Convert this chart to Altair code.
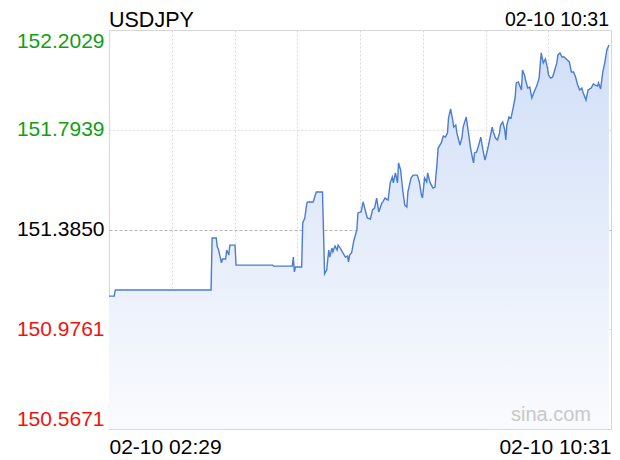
import altair as alt
import pandas as pd

FONT = "Liberation Sans"
TITLE = "USDJPY"
TIME_NOW = "02-10 10:31"
X_LABELS = ["02-10 02:29", "02-10 10:31"]
X_MAX = 482
Y_TICKS = [150.5671, 150.9761, 151.3850, 151.7939, 152.2029]
PREV_CLOSE = 151.3850
WATERMARK = "sina.com"

# minutes since 02:29
minutes = [0, 5, 6, 98, 99, 103, 104, 105, 108, 109, 112, 113, 115, 116, 121, 122, 157, 158, 176, 177,
           178, 179, 185, 186, 188, 190, 191, 196, 199, 205, 206, 207, 209, 211, 212, 214, 215, 217, 219, 220,
           222, 224, 227, 229, 230, 231, 233, 235, 238, 239, 242, 244, 246, 248, 251, 253, 255, 257, 259, 262,
           263, 265, 268, 270, 272, 273, 275, 277, 278, 280, 282, 284, 286, 287, 290, 292, 296, 298, 300, 301,
           302, 303, 305, 306, 308, 311, 313, 315, 316, 319, 321, 323, 325, 326, 328, 330, 331, 333, 334, 337,
           339, 340, 343, 345, 347, 349, 350, 351, 353, 355, 357, 359, 361, 363, 366, 368, 369, 371, 373, 375,
           376, 378, 380, 381, 382, 384, 386, 388, 390, 391, 393, 396, 397, 399, 400, 402, 404, 406, 407, 411,
           413, 415, 417, 419, 421, 422, 424, 426, 428, 430, 431, 433, 435, 437, 440, 442, 444, 446, 448, 450,
           452, 454, 455, 458, 460, 463, 465, 467, 469, 470, 472, 474, 476, 478, 480]
prices = [151.112, 151.112, 151.137, 151.137, 151.350, 151.350, 151.313, 151.305, 151.248, 151.264,
          151.264, 151.301, 151.280, 151.321, 151.321, 151.239, 151.239, 151.235, 151.235, 151.272,
          151.211, 151.231, 151.231, 151.412, 151.432, 151.494, 151.498, 151.498, 151.539, 151.539,
          151.371, 151.203, 151.219, 151.301, 151.272, 151.309, 151.293, 151.317, 151.301, 151.321,
          151.309, 151.293, 151.272, 151.276, 151.252, 151.280, 151.290, 151.338, 151.383, 151.453,
          151.457, 151.498, 151.465, 151.432, 151.428, 151.465, 151.473, 151.514, 151.457, 151.494,
          151.498, 151.514, 151.506, 151.576, 151.600, 151.576, 151.617, 151.576, 151.658, 151.629,
          151.547, 151.485, 151.477, 151.539, 151.596, 151.608, 151.608, 151.580, 151.526, 151.514,
          151.555, 151.596, 151.580, 151.617, 151.580, 151.555, 151.559, 151.658, 151.719, 151.740,
          151.768, 151.764, 151.781, 151.842, 151.879, 151.834, 151.805, 151.813, 151.781, 151.731,
          151.764, 151.805, 151.846, 151.785, 151.723, 151.678, 151.658, 151.699, 151.703, 151.731,
          151.764, 151.711, 151.670, 151.703, 151.764, 151.805, 151.785, 151.760, 151.752, 151.781,
          151.813, 151.826, 151.793, 151.752, 151.813, 151.846, 151.842, 151.883, 151.928, 151.986,
          151.990, 151.957, 152.039, 152.018, 151.998, 151.965, 151.969, 151.924, 151.936, 151.977,
          152.006, 152.109, 152.068, 152.084, 152.047, 152.018, 152.006, 152.010, 152.039, 152.068,
          152.100, 152.109, 152.092, 152.092, 152.080, 152.072, 152.031, 152.031, 152.010, 151.977,
          151.957, 151.965, 151.949, 151.916, 151.957, 151.965, 151.982, 151.977, 151.973, 151.986,
          151.961, 152.027, 152.068, 152.121, 152.141]

df = pd.DataFrame({"minute": minutes, "price": prices})
X_GRID = [X_MAX * k / 8 for k in range(9)]
y_min, y_max = Y_TICKS[0], Y_TICKS[-1]

label_expr = (f"datum.value == 0 ? '{X_LABELS[0]}' : "
              f"(datum.value == {X_MAX} ? '{X_LABELS[1]}' : '')")

x_enc = alt.X("minute:Q",
              scale=alt.Scale(domain=[0, X_MAX], nice=False, zero=False),
              axis=alt.Axis(values=X_GRID, labelExpr=label_expr, title=None, domain=False,
                            ticks=False, labelFlush=True, labelOverlap=False,
                            labelFont=FONT, labelFontSize=21, labelColor="#000",
                            labelPadding=7, grid=True, gridColor="#d9d9d9",
                            gridDash=[2, 2], gridWidth=1))
y_enc = alt.Y("price:Q",
              scale=alt.Scale(domain=[y_min, y_max], nice=False, zero=False),
              axis=alt.Axis(values=Y_TICKS, format=".4f", title=None, domain=False,
                            ticks=False, labelFlush=True, labelFlushOffset=0,
                            labelFont=FONT, labelFontSize=21, labelPadding=5,
                            labelColor={"condition": [
                                {"test": f"datum.value > {PREV_CLOSE + 0.001}", "value": "#12a012"},
                                {"test": f"datum.value < {PREV_CLOSE - 0.001}", "value": "#f0140f"}],
                                "value": "#000"},
                            grid=True,
                            gridColor={"condition": {"test": f"abs(datum.value - {PREV_CLOSE}) < 0.001",
                                                     "value": "#b4b4b4"}, "value": "#dadada"},
                            gridDash={"condition": {"test": f"abs(datum.value - {PREV_CLOSE}) < 0.001",
                                                    "value": [3, 2]}, "value": [2, 2]}))

base = alt.Chart(df).encode(x=x_enc, y=y_enc)

grad = alt.Gradient(gradient="linear",
                    stops=[alt.GradientStop(color="#d1dff7", offset=0),
                           alt.GradientStop(color="#fafbfe", offset=1)],
                    x1=0, x2=0, y1=0, y2=1)
area = base.mark_area(color=grad, clip=True).encode(y2=alt.datum(y_min))
line = base.mark_line(color="#4a7cd3", strokeWidth=1.4, clip=True)

title = alt.Chart(pd.DataFrame({"t": [TITLE]})).mark_text(
    align="left", baseline="alphabetic", font=FONT, fontSize=21.5, color="#000"
).encode(x=alt.datum(0), y=alt.value(-3), text="t:N")
stamp = alt.Chart(pd.DataFrame({"t": [TIME_NOW]})).mark_text(
    align="right", baseline="alphabetic", font=FONT, fontSize=19.5, color="#000", dx=-2
).encode(x=alt.datum(X_MAX), y=alt.value(-4), text="t:N")
mark = alt.Chart(pd.DataFrame({"t": [WATERMARK]})).mark_text(
    align="right", baseline="alphabetic", font=FONT, fontSize=20, color="#c8c8c8", dx=-20, dy=-8
).encode(x=alt.datum(X_MAX), y=alt.datum(y_min), text="t:N")

chart = alt.layer(area, line, mark, title, stamp).properties(
    width=502, height=399,
    autosize=alt.AutoSizeParams(type="none"),
    padding={"left": 101, "top": 22, "right": 1, "bottom": 30},
    background="#ffffff",
).configure_view(stroke="#d4d4d4", strokeWidth=1)

chart.save("out.html", embed_options={"renderer": "svg", "actions": False})
